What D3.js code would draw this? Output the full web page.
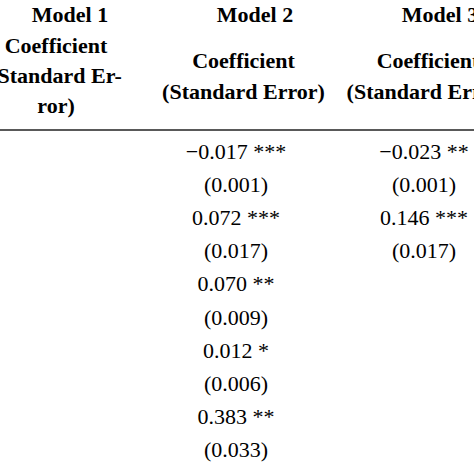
<!DOCTYPE html>
<html><head><meta charset="utf-8">
<script src="https://cdnjs.cloudflare.com/ajax/libs/d3/7.8.5/d3.min.js"></script>
<style>body{margin:0;background:#fff}</style>
</head><body><svg id="t"></svg>
<script>
// table content
const models = ["Model 1", "Model 2", "Model 3"];
const headerLines = [
  ["Coefficient", "(Standard Er-", "ror)"],
  ["", "Coefficient", "(Standard Error)"],
  ["", "Coefficient", "(Standard Error)"]
];
const model2 = ["\u22120.017 ***", "(0.001)", "0.072 ***", "(0.017)", "0.070 **", "(0.009)", "0.012 *", "(0.006)", "0.383 **", "(0.033)"];
const model3 = ["\u22120.023 **", "(0.001)", "0.146 ***", "(0.017)", "", "", "", "", "", ""];

const W = 474, H = 474;
const svg = d3.select("#t").attr("width", W).attr("height", H);
const font = "'Liberation Serif','DejaVu Serif',serif";

// column centers (model 1 and 3 are cut by the crop, as in the source)
const x = d3.scalePoint().domain(models).range([70, 440]);
const sub = d3.scalePoint().domain(models).range([56, 424]);
const y = d3.scaleBand().domain(d3.range(model2.length)).range([134, 466]);

svg.selectAll(".model").data(models).join("text")
  .attr("x", d => x(d)).attr("y", 22)
  .attr("text-anchor", "middle")
  .attr("font-family", font).attr("font-weight", "bold").attr("font-size", 22)
  .text(d => d);

const hy = [[53, 83, 113], [0, 68, 99], [0, 68, 99]];
models.forEach((m, i) => {
  svg.selectAll(".h" + i).data(headerLines[i]).join("text")
    .attr("x", i === 0 ? sub(m) : (x(m) + sub(m)) / 2 - 4).attr("y", (d, j) => hy[i][j])
    .attr("text-anchor", "middle")
    .attr("font-family", font).attr("font-weight", "bold").attr("font-size", 22)
    .text(d => d);
});

svg.append("line").attr("x1", 0).attr("x2", W).attr("y1", 130).attr("y2", 130)
  .attr("stroke", "#222").attr("stroke-width", 1.5);

[[model2, 236], [model3, 424]].forEach(([vals, cx]) => {
  svg.append("g").selectAll("text").data(vals).join("text")
    .attr("x", cx).attr("y", (d, i) => y(i) + y.bandwidth() / 2 + 8)
    .attr("text-anchor", "middle")
    .attr("font-family", font).attr("font-size", 22)
    .text(d => d);
});
</script></body></html>
